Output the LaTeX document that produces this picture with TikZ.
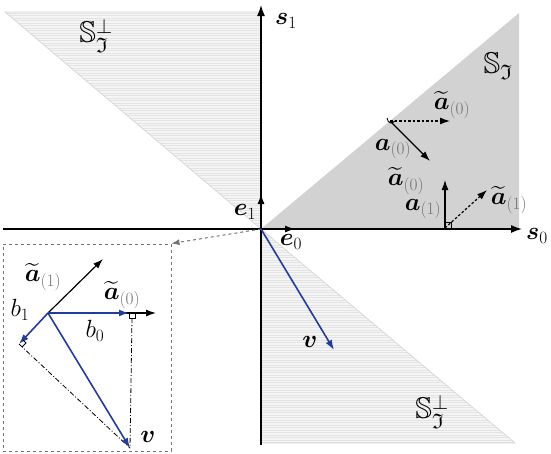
\documentclass[tikz,border=0pt]{standalone}
\usepackage{amsmath,amssymb,bm}
\usetikzlibrary{arrows.meta}
\definecolor{vblue}{RGB}{35,60,155}
\definecolor{trigray}{RGB}{210,210,210}
\newcommand{\mysub}[1]{_{\textcolor{black!55}{(#1)}}}
\newcommand{\ta}{\widetilde{\bm a}}
\begin{document}
\begin{tikzpicture}[x=1pt,y=-1pt,
  font=\fontsize{25}{29}\selectfont,
  lbl/.style={inner sep=0pt},
  setlbl/.style={inner sep=0pt,font=\fontsize{30}{34}\selectfont},
  axis/.style={line width=1.5pt,-{Latex[length=11pt,width=8pt]}},
  vec/.style={line width=1.2pt,-{Latex[length=10pt,width=7pt]}},
  bvec/.style={vec,vblue,line width=1.6pt},
  dvec/.style={line width=1.2pt,dash pattern=on 2.5pt off 2pt,-{Latex[length=10pt,width=7pt]}},
  proj/.style={line width=0.8pt,dash pattern=on 5pt off 2pt on 1pt off 2pt},
  hatchline/.style={black!11,line width=0.4pt},
  sq/.style={line width=0.9pt}]
\useasboundingbox (0,0) rectangle (551,453);
\coordinate (O) at (261,229);
% hatched complements
\fill[black!4] (5,12) -- (261,12) -- (O) -- cycle;
\begin{scope}
  \clip (5,12) -- (261,12) -- (O) -- cycle;
  \foreach \y in {13,15.5,...,230} \draw[hatchline] (0,\y) -- (262,\y);
\end{scope}
\draw[black!16,line width=0.7pt] (261,12) -- (5,12) -- (O);
\fill[black!4] (O) -- (261,443) -- (515,443) -- cycle;
\begin{scope}
  \clip (O) -- (261,443) -- (515,443) -- cycle;
  \foreach \y in {230,232.5,...,444} \draw[hatchline] (260,\y) -- (516,\y);
\end{scope}
\draw[black!16,line width=0.7pt] (O) -- (515,443) -- (261,443);
% gray cone
\fill[trigray] (O) -- (519,13) -- (519,229) -- cycle;
% axes
\coordinate (xl) at (3,229);
\coordinate (xr) at (522,229);
\coordinate (yb) at (261,445);
\coordinate (yt) at (261,5);
\draw[axis] (xl) -- (xr);
\draw[axis] (yb) -- (yt);
\node[lbl] (s0) at (537,236) {$\bm s_0$};
\node[lbl] (s1) at (286,21) {$\bm s_1$};
% set labels
\node[setlbl] (Sperp1) at (96,36) {$\mathbb{S}_{\mathfrak{I}}^{\perp}$};
\node[setlbl] (S) at (498,66) {$\mathbb{S}_{\mathfrak{I}}$};
\node[setlbl] (Sperp2) at (432,412) {$\mathbb{S}_{\mathfrak{I}}^{\perp}$};
% basis
\coordinate (e1t) at (261,194);
\coordinate (e0t) at (295,229);
\draw[vec] (O) -- (e1t);
\draw[vec] (O) -- (e0t);
\node[lbl] (e1) at (245,212) {$\bm e_1$};
\node[lbl] (e0) at (291,242) {$\bm e_0$};
% main v
\coordinate (vt) at (334,350);
\draw[bvec] (O) -- (vt);
\node[lbl] (v) at (310,342) {$\bm v$};
% vectors in the cone
\coordinate (A0) at (390,121);
\coordinate (a0t) at (430,161);
\coordinate (ta0t) at (450,121);
\draw[dvec] (A0) -- (ta0t);
\draw[vec] (A0) -- (a0t);
\draw[line width=0.9pt] (387,118) .. controls (388,124) and (392,124) .. (395,121);
\node[lbl] (ta0) at (452,105) {$\ta\mysub{0}$};
\node[lbl] (a0) at (393,149) {$\bm a\mysub{0}$};
\node[lbl] (ta0b) at (406,181) {$\ta\mysub{0}$};
\coordinate (A1) at (445,228);
\coordinate (a1t) at (445,180);
\coordinate (ta1t) at (487,190);
\draw[vec] (A1) -- (a1t);
\draw[dvec] (A1) -- (ta1t);
\draw[sq] (445,222) rectangle (451,228);
\node[lbl] (a1) at (423,209) {$\bm a\mysub{1}$};
\node[lbl] (ta1) at (509,200) {$\ta\mysub{1}$};
% inset
\node[draw=black!55,dashed,line width=1pt,minimum width=168pt,minimum height=207pt,inner sep=0pt] (inset) at (87,347.5) {};
\draw[black!55,dashed,line width=1pt,-{Latex[length=8pt,width=6pt]}] (O) -- (inset.north east);
\coordinate (P) at (48,313);
\coordinate (it1) at (103,259);
\coordinate (it0) at (156,313);
\coordinate (b0t) at (129,313);
\coordinate (b1t) at (19,344);
\coordinate (ivt) at (130,448);
\draw[proj] (132,318) -- (ivt);
\draw[proj] (b1t) -- (ivt);
\draw[vec] (P) -- (it1);
\draw[vec] (P) -- (it0);
\draw[bvec] (P) -- (b0t);
\draw[bvec] (P) -- (b1t);
\draw[bvec] (P) -- (ivt);
\draw[sq,fill=white] (129,313) rectangle (135,318);
\draw[sq] (22,347) -- (26,343) -- (23,340);
\node[lbl] (it1l) at (43,277) {$\ta\mysub{1}$};
\node[lbl] (it0l) at (122,295) {$\ta\mysub{0}$};
\node[lbl] (b0) at (95,331) {$b_0$};
\node[lbl] (b1) at (20,310) {$b_1$};
\node[lbl] (ivl) at (148,437) {$\bm v$};
\end{tikzpicture}
\end{document}
